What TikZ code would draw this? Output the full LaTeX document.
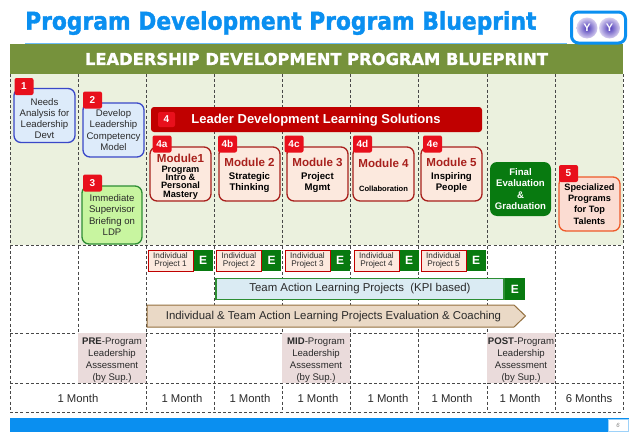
\documentclass[tikz,border=0pt]{standalone}
\usepackage{graphicx}
\usepackage{fontspec}
\setmainfont{Liberation Sans}
\newfontfamily\titlefont[BoldFeatures={FakeBold=1.6}]{DejaVu Sans}
\usetikzlibrary{positioning}
\definecolor{titleblue}{HTML}{0A8FF0}
\definecolor{headgreen}{HTML}{76923C}
\definecolor{lightgreen}{HTML}{EBF1DE}
\definecolor{boxblue}{HTML}{DDEBFA}
\definecolor{lineblue}{HTML}{3A48C8}
\definecolor{modred}{HTML}{A8201C}
\definecolor{modfill}{HTML}{FCE9DE}
\definecolor{barred}{HTML}{C00000}
\definecolor{badgered}{HTML}{E8101C}
\definecolor{limefill}{HTML}{C8F5A0}
\definecolor{darkgreen}{HTML}{087A10}
\definecolor{spfill}{HTML}{FBDCD2}
\definecolor{spline}{HTML}{EE5A2A}
\definecolor{teamfill}{HTML}{DAEBF3}
\definecolor{tanfill}{HTML}{EAD9C6}
\definecolor{tanline}{HTML}{94703F}
\definecolor{pinkfill}{HTML}{EADBDB}
\definecolor{gridgray}{HTML}{484848}
\definecolor{textgray}{HTML}{2A2A2A}
\definecolor{logoin}{HTML}{4B38B8}
\definecolor{logoout}{HTML}{D8D0F0}
\tikzstyle{gridline} = [draw=gridgray, line width=1pt, dash pattern=on 3pt off 2.2pt]
\tikzstyle{infobox} = [draw=lineblue, fill=boxblue, rounded corners=7pt, line width=1.3pt, minimum width=61pt, minimum height=54pt, align=center, text=textgray, font=\fontsize{9.6}{11.3}\selectfont, inner sep=0pt]
\tikzstyle{modbox} = [draw=modred, fill=modfill, rounded corners=7pt, line width=1.3pt, minimum width=61pt, minimum height=54pt, align=center, text=black, inner sep=0pt, font=\bfseries\fontsize{9.6}{11.3}\selectfont]
\tikzstyle{badge} = [fill=badgered, rounded corners=2pt, text=white, font=\bfseries\fontsize{10}{12}\selectfont, minimum width=19pt, minimum height=17pt, inner sep=0pt]
\tikzstyle{project} = [draw=barred, fill=modfill, line width=1pt, minimum width=45pt, minimum height=21pt, align=center, text=textgray, font=\fontsize{8.2}{8.6}\selectfont, inner sep=0pt]
\tikzstyle{evalbox} = [fill=darkgreen, text=white, font=\bfseries\fontsize{12}{13}\selectfont, minimum width=19pt, minimum height=21pt, inner sep=0pt]
\tikzstyle{assess} = [fill=pinkfill, minimum width=68pt, minimum height=50pt, align=center, text=textgray, font=\fontsize{9.6}{12}\selectfont, inner sep=0pt]
\tikzstyle{month} = [text=textgray, font=\fontsize{11.3}{13}\selectfont, inner sep=0pt]
\tikzstyle{logoball} = [circle, shading=radial, inner color=logoin, outer color=logoout, minimum size=21pt, inner sep=0pt, text=white, font=\bfseries\fontsize{11}{12}\selectfont]
\newcommand{\modname}[1]{\raisebox{0pt}[11pt]{\textcolor{modred}{\fontsize{11.6}{14}\selectfont #1}}}
\begin{document}
\begin{tikzpicture}[x=1pt, y=-1pt, auto]
\useasboundingbox (0,0) rectangle (638,442);

% background bands
\fill [headgreen] (10,44) rectangle (623,74);
\fill [lightgreen] (10,74) rectangle (623,245);
\fill [titleblue] (10,418) rectangle (629,432);
\draw [titleblue!60, line width=1pt] (25,43) -- (567,43);

\node [anchor=west, inner sep=0pt, text=titleblue, font=\titlefont\bfseries\fontsize{21.8}{24}\selectfont] (title) at (25,23) {\scalebox{1}[1.12]{Program Development Program Blueprint}};
\node [text=white, inner sep=0pt, font=\titlefont\bfseries\fontsize{16.3}{18}\selectfont] (head) at (316.5,59) {LEADERSHIP DEVELOPMENT PROGRAM BLUEPRINT};

% logo
\node [draw=titleblue, fill=white, rounded corners=7pt, line width=3pt, minimum width=54pt, minimum height=31pt] (logo) at (598.5,27.5) {};
\node [logoball] (logoa) at (587,28) {Y};
\node [logoball] (logob) at (609.5,28) {Y};

% grid
\draw [gridline] (10,74) -- (10,412);
\draw [gridline] (78,74) -- (78,383);
\draw [gridline] (146,74) -- (146,412);
\draw [gridline] (214,74) -- (214,412);
\draw [gridline] (282,74) -- (282,412);
\draw [gridline] (350.5,74) -- (350.5,412);
\draw [gridline] (418.7,74) -- (418.7,412);
\draw [gridline] (487,74) -- (487,412);
\draw [gridline] (555,74) -- (555,412);
\draw [gridline] (623,74) -- (623,412);
\draw [gridline] (10,245) -- (623,245);
\draw [gridline] (10,333) -- (623,333);
\draw [gridline] (10,383) -- (623,383);
\draw [gridline] (10,412) -- (623,412);

% top row
\node [infobox] (needs) at (44.5,115.5) {\raisebox{0pt}[13pt]{Needs}\\Analysis for\\Leadership\\Devt};
\node [infobox] (model) at (113.5,130) {Develop\\Leadership\\Competency\\Model};
\node [infobox, draw=darkgreen!85, fill=limefill, minimum width=60pt, minimum height=58pt] (brief) at (112,215) {Immediate\\Supervisor\\Briefing on\\LDP};
\node [badge] (b1) at (24,86.5) {1};
\node [badge] (b2) at (92.5,100) {2};
\node [badge] (b3) at (92.5,183) {3};

\node [fill=barred, rounded corners=3pt, minimum width=331pt, minimum height=25pt, inner sep=0pt] (bar) at (316.5,119.5) {};
\node [text=white, inner sep=0pt, font=\bfseries\fontsize{13}{15}\selectfont] (bartext) at (316,120) {Leader Development Learning Solutions};
\node [badge, minimum width=17pt, minimum height=15pt] (b4) at (166.5,119.5) {4};

\node [modbox, font=\bfseries\fontsize{9.2}{8.4}\selectfont] (m1) at (180.5,174) {\raisebox{0pt}[14pt]{\modname{Module1}}\\[1pt]Program\\Intro \&\\Personal\\Mastery};
\node [modbox] (m2) at (249.5,174) {\modname{Module 2}\\[2pt]Strategic\\Thinking};
\node [modbox] (m3) at (317.5,174) {\modname{Module 3}\\[2pt]Project\\Mgmt};
\node [modbox] (m4) at (383.5,174) {\modname{Module 4}\\[2pt]\phantom{X}\\\fontsize{7.6}{9}\selectfont Collaboration};
\node [modbox] (m5) at (451.5,174) {\modname{Module 5}\\[2pt]Inspiring\\People};
\node [badge] (b4a) at (162,144) {4a};
\node [badge] (b4b) at (227.5,144) {4b};
\node [badge] (b4c) at (294,144) {4c};
\node [badge] (b4d) at (362.5,144) {4d};
\node [badge] (b4e) at (432.5,144) {4e};

\node [infobox, draw=none, fill=darkgreen, text=white, font=\bfseries\fontsize{9.6}{11.3}\selectfont] (final) at (520.5,189) {Final\\Evaluation\\\&\\Graduation};
\node [infobox, draw=spline, fill=spfill, text=black, font=\bfseries\fontsize{9.2}{11.3}\selectfont] (special) at (589.5,204) {Specialized\\Programs\\for Top\\Talents};
\node [badge] (b5) at (568.5,173.5) {5};

% project row
\node [project] (ip1) at (170.5,260.5) {Individual\\Project 1};
\node [evalbox, right=0pt of ip1] (e1) {E};
\node [project] (ip2) at (239,260.5) {Individual\\Project 2};
\node [evalbox, right=0pt of ip2] (e2) {E};
\node [project] (ip3) at (307.5,260.5) {Individual\\Project 3};
\node [evalbox, right=0pt of ip3] (e3) {E};
\node [project] (ip4) at (376.5,260.5) {Individual\\Project 4};
\node [evalbox, right=0pt of ip4] (e4) {E};
\node [project] (ip5) at (443.5,260.5) {Individual\\Project 5};
\node [evalbox, right=0pt of ip5] (e5) {E};

\node [draw=darkgreen!85, fill=teamfill, line width=1.2pt, minimum width=288pt, minimum height=21pt, inner sep=0pt, text=textgray, font=\fontsize{11.4}{13}\selectfont] (team) at (360,289) {Team Action Learning Projects\ \ (KPI based)};
\node [evalbox, minimum width=20pt, minimum height=22pt, right=0pt of team] (e6) {E};

\fill [tanfill, draw=tanline, line width=1pt] (147,305) -- (514,305) -- (525.5,316) -- (514,327) -- (147,327) -- cycle;
\node [inner sep=0pt, text=textgray, font=\fontsize{11.4}{13}\selectfont] (coach) at (333.5,316.5) {Individual \& Team Action Learning Projects Evaluation \& Coaching};

% assessment row
\node [assess] (pre) at (112,358) {\raisebox{0pt}[11.8pt]{\textbf{PRE}-Program}\\Leadership\\Assessment\\(by Sup.)};
\node [assess] (mid) at (316,358) {\raisebox{0pt}[11.8pt]{\textbf{MID}-Program}\\Leadership\\Assessment\\(by Sup.)};
\node [assess] (post) at (521,358) {\raisebox{0pt}[11.8pt]{\textbf{POST}-Program}\\Leadership\\Assessment\\(by Sup.)};

% months
\node [month] (t1) at (78,398) {1 Month};
\node [month] (t2) at (182,398) {1 Month};
\node [month] (t3) at (250,398) {1 Month};
\node [month] (t4) at (318,398) {1 Month};
\node [month] (t5) at (388,398) {1 Month};
\node [month] (t6) at (452,398) {1 Month};
\node [month] (t7) at (520,398) {1 Month};
\node [month] (t8) at (589,398) {6 Months};

% page number
\node [fill=white, draw=titleblue!40, minimum width=20pt, minimum height=12pt, inner sep=0pt, text=gray, font=\itshape\fontsize{6}{7}\selectfont] (page) at (618,425) {6};
\end{tikzpicture}
\end{document}
